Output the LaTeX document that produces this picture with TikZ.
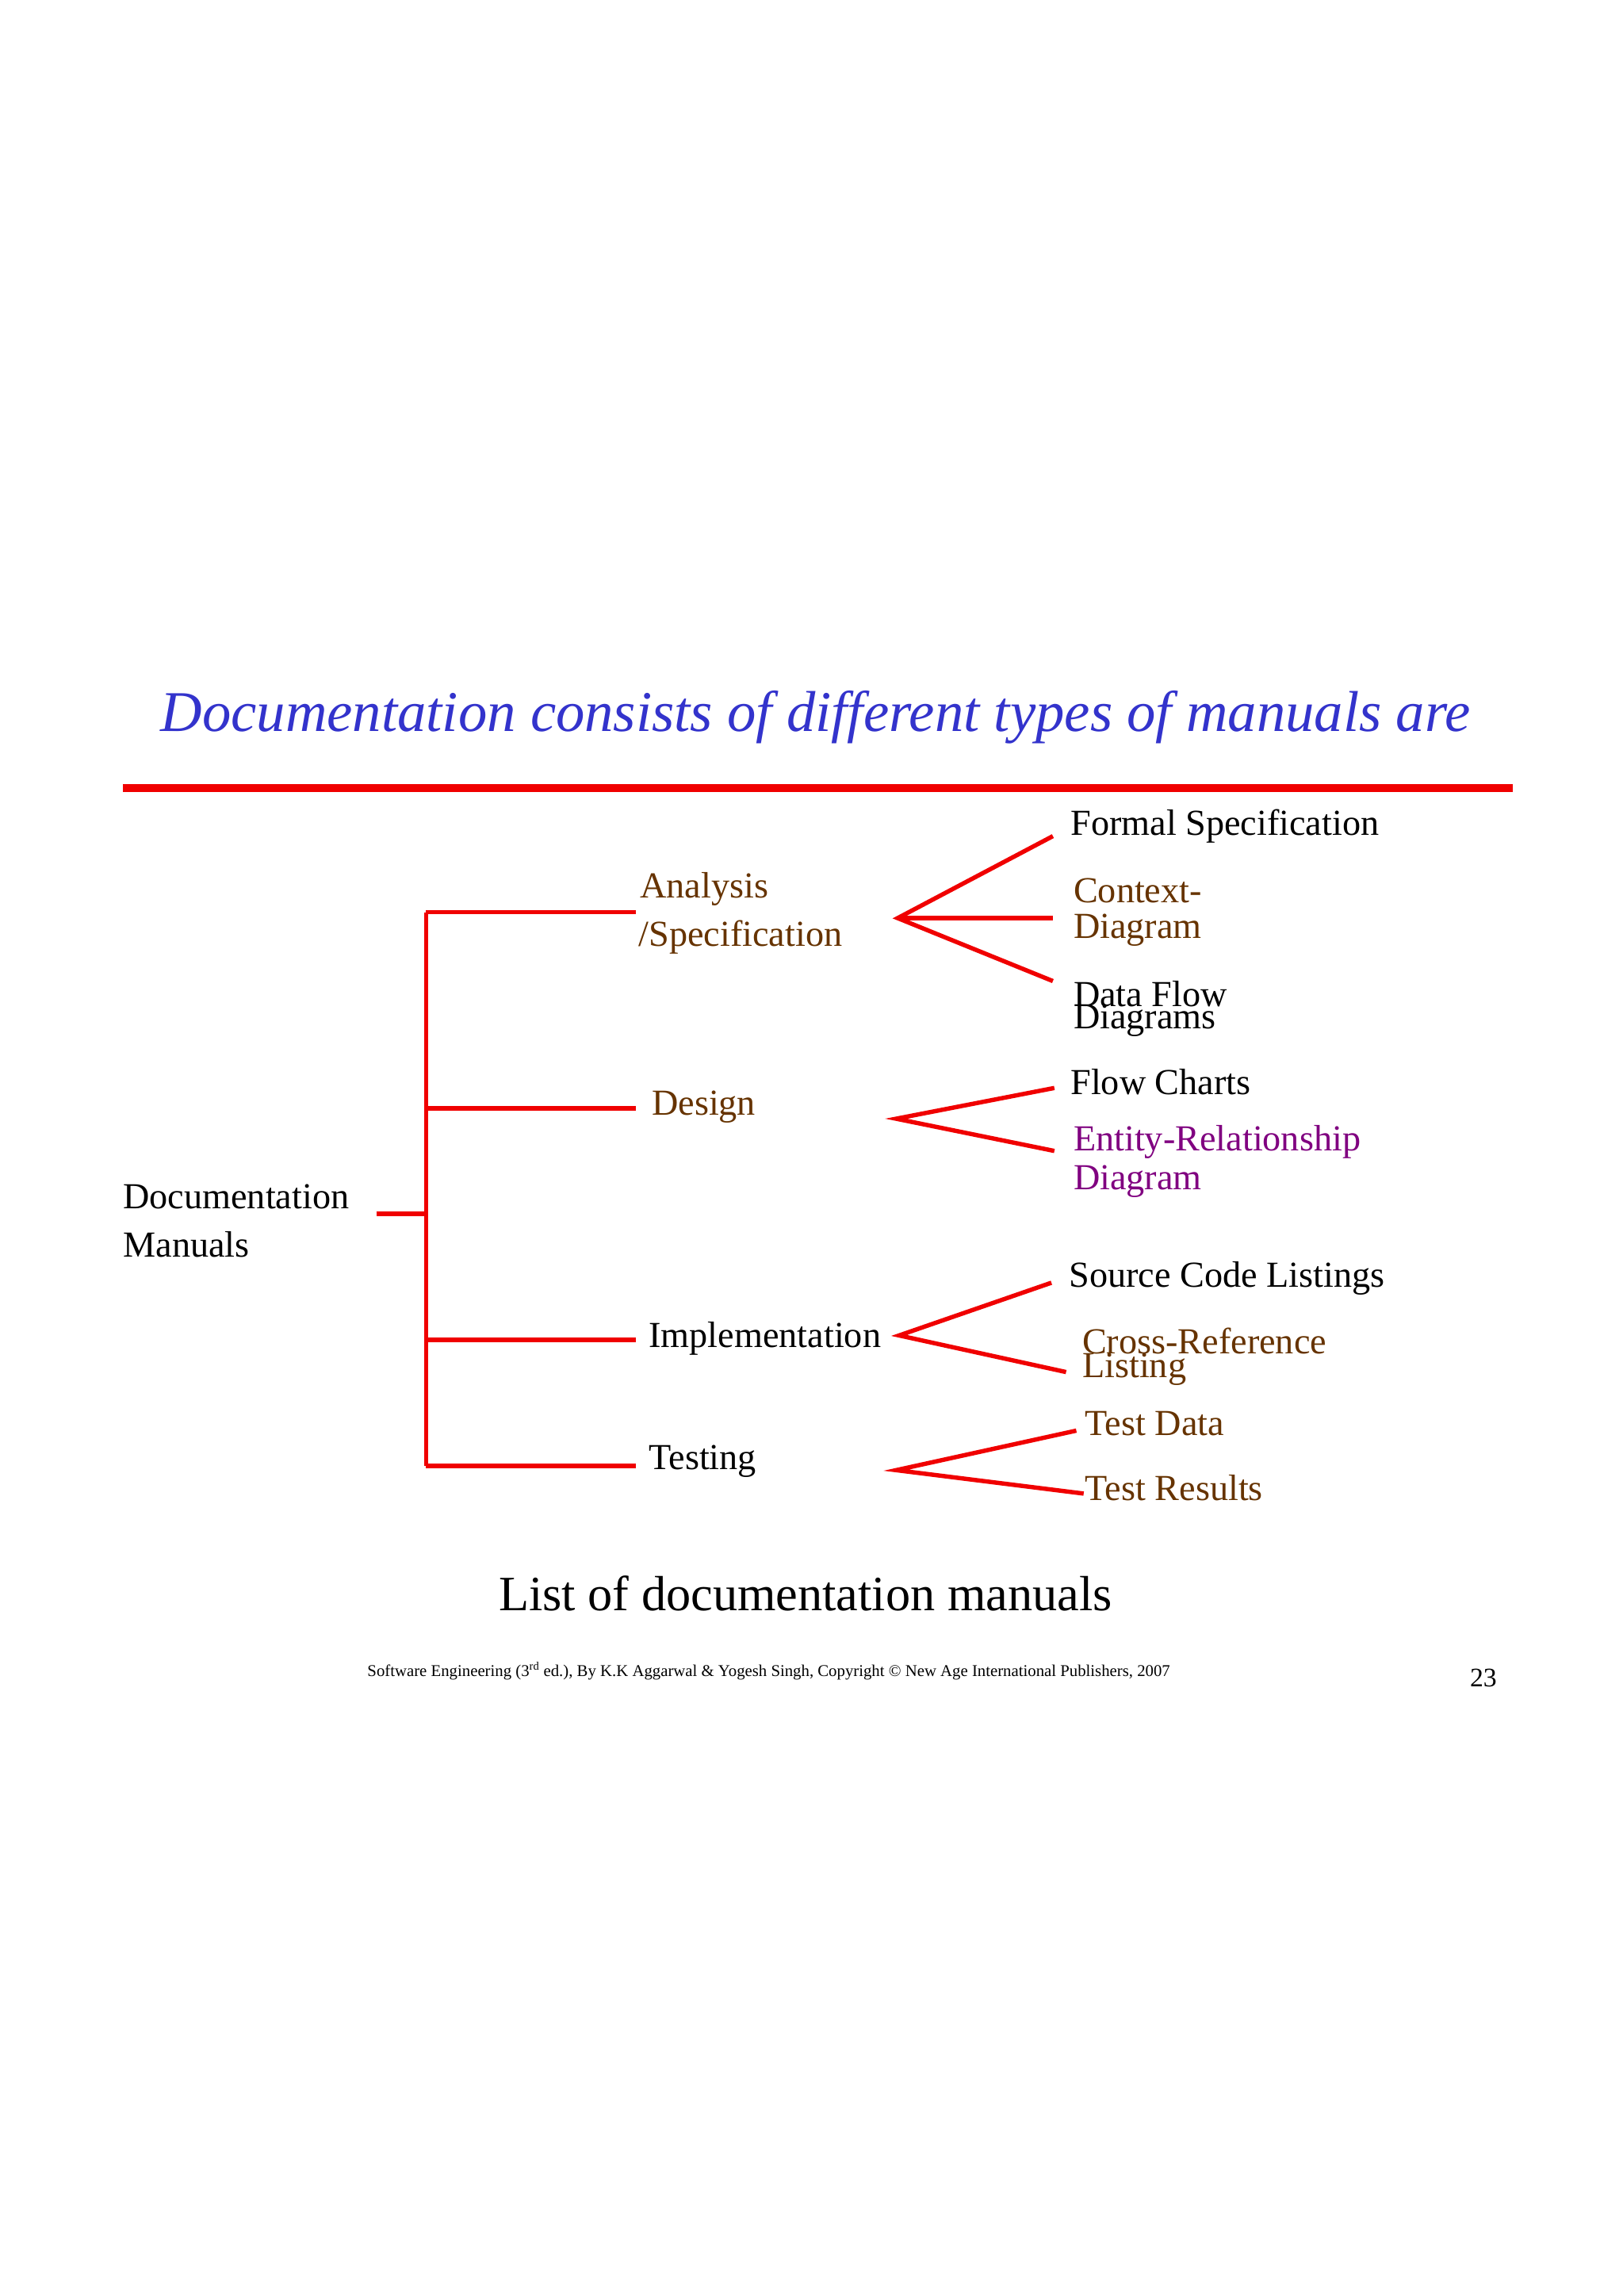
\documentclass[tikz,border=0pt]{standalone}
\usepackage{fontspec}
\setmainfont{Liberation Serif}
\definecolor{br}{RGB}{102,51,0}
\definecolor{pu}{RGB}{128,0,128}
\definecolor{tb}{RGB}{51,51,204}
\definecolor{rl}{RGB}{240,0,0}
\begin{document}
\begin{tikzpicture}[x=0.05cm,y=-0.05cm,
 t/.style={anchor=west,inner sep=0,font=\fontsize{35.6}{36}\selectfont},
 ln/.style={draw=rl,line width=4.2pt}]
\useasboundingbox[fill=white] (0,0) rectangle (1108,1568);
\node[font=\fontsize{56}{58}\selectfont\itshape,text=tb] (title) at (557,490) {Documentation consists of different types of manuals are};
\coordinate (r1) at (84,538); \coordinate (r2) at (1033,538);
\draw[draw=rl,line width=7.5pt] (r1)--(r2);
% tree
\coordinate (s0) at (257,829); \coordinate (s1) at (291,829);
\coordinate (vt) at (291,623); \coordinate (vb) at (291,1001);
\coordinate (b1) at (291,623); \coordinate (e1) at (434,623);
\coordinate (b2) at (291,757); \coordinate (e2) at (434,757);
\coordinate (b3) at (291,915); \coordinate (e3) at (434,915);
\coordinate (b4) at (291,1001); \coordinate (e4) at (434,1001);
\draw[ln] (s0)--(s1); \draw[ln] (vt)--(vb);
\draw[ln] (b1)--(e1); \draw[ln] (b2)--(e2); \draw[ln] (b3)--(e3); \draw[ln] (b4)--(e4);
\coordinate (a0) at (613,627); \coordinate (a1) at (719,571); \coordinate (a2) at (719,627); \coordinate (a3) at (719,670);
\draw[ln] (a1)--(a0)--(a3); \draw[ln] (a0)--(a2);
\coordinate (d0) at (612,764); \coordinate (d1) at (720,743); \coordinate (d2) at (720,786);
\draw[ln] (d1)--(d0)--(d2);
\coordinate (i0) at (614,912); \coordinate (i1) at (718,876); \coordinate (i2) at (728,937);
\draw[ln] (i1)--(i0)--(i2);
\coordinate (q0) at (612,1004); \coordinate (q1) at (735,977); \coordinate (q2) at (740,1020);
\draw[ln] (q1)--(q0)--(q2);
% texts
\node[t] (dm1) at (84,817) {Documentation};
\node[t] (dm2) at (84,850) {Manuals};
\node[t,text=br] (an1) at (437,607) {Analysis};
\node[t,text=br] (an2) at (436,640) {/Specification};
\node[t,text=br] (de) at (445,756) {Design};
\node[t] (im) at (443,914) {Implementation};
\node[t] (te) at (443,998) {Testing};
\node[t] (fs) at (731,564) {Formal Specification};
\node[t,text=br] (cd1) at (733,608) {Context-};
\node[t,text=br] (cd2) at (733,635) {Diagram};
\node[t] (df1) at (733,679) {Data Flow};
\node[t] (df2) at (733,697) {Diagrams};
\node[t] (fc) at (731,739) {Flow Charts};
\node[t,text=pu] (er1) at (733,780) {Entity-Relationship};
\node[t,text=pu] (er2) at (733,807) {Diagram};
\node[t] (sc) at (730,873) {Source Code Listings};
\node[t,text=br] (cr1) at (739,916) {Cross-Reference};
\node[t,text=br] (cr2) at (739,935) {Listing};
\node[t,text=br] (td) at (741,972) {Test Data};
\node[t,text=br] (tr) at (741,1016) {Test Results};
\node[inner sep=0,font=\fontsize{48}{50}\selectfont] (cap) at (550,1088) {List of documentation manuals};
\node[inner sep=0,font=\fontsize{16}{17}\selectfont] (ft) at (525,1141) {Software Engineering (3\textsuperscript{rd} ed.), By K.K Aggarwal \& Yogesh Singh, Copyright © New Age International Publishers, 2007};
\node[inner sep=0,font=\fontsize{26}{27}\selectfont] (pg) at (1013,1146) {23};
\end{tikzpicture}
\end{document}
